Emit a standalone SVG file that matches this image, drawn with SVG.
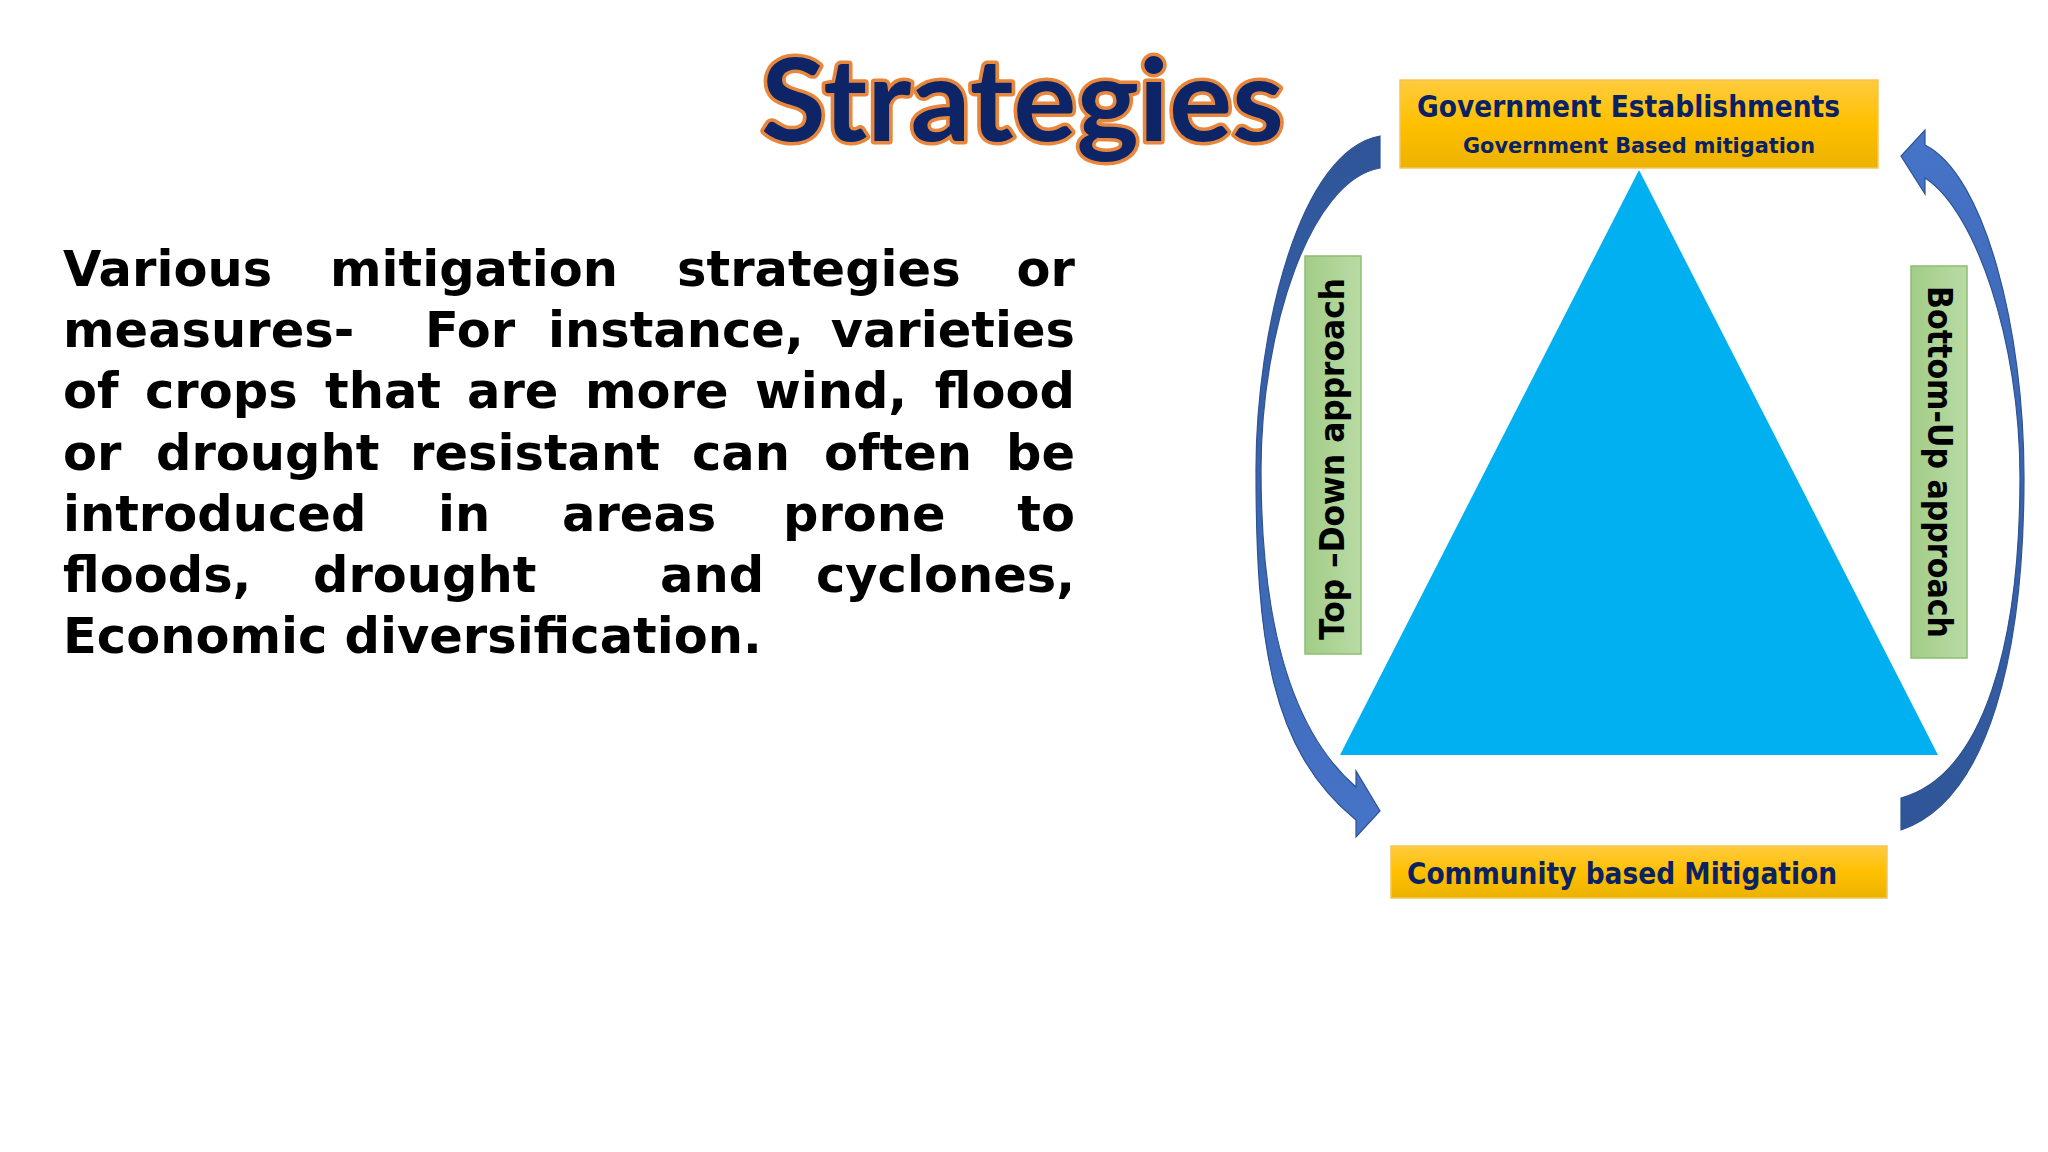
<svg xmlns="http://www.w3.org/2000/svg" width="2048" height="1152" viewBox="0 0 2048 1152">
  <defs>
    <linearGradient id="gold" x1="0" y1="0" x2="0" y2="1">
      <stop offset="0" stop-color="#FFCB3F"/>
      <stop offset="0.5" stop-color="#FFC000"/>
      <stop offset="1" stop-color="#ECB200"/>
    </linearGradient>
    <linearGradient id="green" x1="0" y1="0" x2="1" y2="0">
      <stop offset="0" stop-color="#A2CC87"/>
      <stop offset="1" stop-color="#B9DBA4"/>
    </linearGradient>
    <linearGradient id="blueL" x1="0" y1="0" x2="0" y2="1">
      <stop offset="0" stop-color="#2F5597"/>
      <stop offset="1" stop-color="#4674C8"/>
    </linearGradient>
    <linearGradient id="blueR" x1="0" y1="1" x2="0" y2="0">
      <stop offset="0" stop-color="#2F5597"/>
      <stop offset="1" stop-color="#4674C8"/>
    </linearGradient>
    <style>
      .body { font-family: "DejaVu Sans", Verdana, sans-serif; font-weight: bold; font-size: 49.5px; fill: #000; }
      .box { fill: url(#gold); stroke: #F3C654; stroke-width: 1.5; }
      .boxtxt { font-family: "DejaVu Sans", Tahoma, sans-serif; font-weight: bold; fill: #0A2263; }
      .gbox { fill: url(#green); stroke: #8DBF70; stroke-width: 1.5; }
      .gtxt { font-family: "DejaVu Sans", Tahoma, sans-serif; font-weight: bold; font-size: 33px; fill: #000; }
      .arrow { stroke: #2E5391; stroke-width: 1.2; }
    </style>
  </defs>
  <rect width="2048" height="1152" fill="#FFFFFF"/>

  <g id="title">
    <text x="761" y="141" textLength="523" lengthAdjust="spacingAndGlyphs" font-family="Lato, 'Open Sans', sans-serif" font-weight="bold" font-size="114" fill="#0D2466" stroke="#E8873C" stroke-width="7" paint-order="stroke" stroke-linejoin="round">Strategies</text>
  </g>

  <g id="body-text" class="body">
    <text y="286"><tspan x="63">Various</tspan><tspan x="330">mitigation</tspan><tspan x="677">strategies</tspan></text>
    <text y="286" x="1075" text-anchor="end">or</text>
    <text y="347"><tspan x="63">measures-</tspan><tspan x="425">For</tspan><tspan x="548">instance,</tspan></text>
    <text y="347" x="1075" text-anchor="end">varieties</text>
    <text y="408"><tspan x="63">of</tspan><tspan x="145">crops</tspan><tspan x="325">that</tspan><tspan x="467">are</tspan><tspan x="585">more</tspan><tspan x="755">wind,</tspan></text>
    <text y="408" x="1075" text-anchor="end">flood</text>
    <text y="470"><tspan x="63">or</tspan><tspan x="156">drought</tspan><tspan x="410">resistant</tspan><tspan x="692">can</tspan><tspan x="824">often</tspan></text>
    <text y="470" x="1075" text-anchor="end">be</text>
    <text y="531"><tspan x="63">introduced</tspan><tspan x="438">in</tspan><tspan x="562">areas</tspan><tspan x="783">prone</tspan></text>
    <text y="531" x="1075" text-anchor="end">to</text>
    <text y="592"><tspan x="63">floods,</tspan><tspan x="313">drought</tspan><tspan x="660">and</tspan></text>
    <text y="592" x="1075" text-anchor="end">cyclones,</text>
    <text y="653" x="63">Economic diversification.</text>
  </g>

  <g id="triangle">
    <polygon points="1639,170 1938,755 1340,755" fill="#00B0F0"/>
  </g>

  <g id="government">
    <rect class="box" x="1400" y="80" width="478" height="88"/>
    <text class="boxtxt" x="1417" y="117" font-size="30" textLength="423" lengthAdjust="spacingAndGlyphs">Government Establishments</text>
    <text class="boxtxt" x="1463" y="153" font-size="21.5" textLength="352" lengthAdjust="spacingAndGlyphs">Government Based mitigation</text>
  </g>

  <g id="community">
    <rect class="box" x="1391" y="846" width="496" height="52"/>
    <text class="boxtxt" x="1407" y="884" font-size="30" textLength="430" lengthAdjust="spacingAndGlyphs">Community based Mitigation</text>
  </g>

  <g id="top-down">
    <rect class="gbox" x="1305" y="256" width="56" height="398"/>
    <text class="gtxt" transform="translate(1333,459) rotate(-90)" x="0" y="11" text-anchor="middle" textLength="362" lengthAdjust="spacingAndGlyphs">Top –Down approach</text>
  </g>

  <g id="bottom-up">
    <rect class="gbox" x="1911" y="266" width="56" height="392"/>
    <text class="gtxt" transform="translate(1939,462) rotate(90)" x="0" y="11" text-anchor="middle" textLength="352" lengthAdjust="spacingAndGlyphs">Bottom-Up approach</text>
  </g>

  <g id="connectors">
    <path class="arrow" fill="url(#blueL)" d="M1380,136 C1300,150 1256,330 1256,470 C1256,640 1270,750 1356,820 L1356,837 L1380,811 L1356,771 L1356,787 C1290,730 1261,620 1261,470 C1261,330 1310,180 1380,168 Z"/>
    <path class="arrow" fill="url(#blueR)" d="M1901,830 C1990,800 2024,650 2024,477 C2024,330 1985,175 1925,145 L1925,130 L1901,156 L1925,194 L1925,178 C1975,210 2020,340 2020,477 C2020,640 1985,775 1901,798 Z"/>
  </g>
</svg>
